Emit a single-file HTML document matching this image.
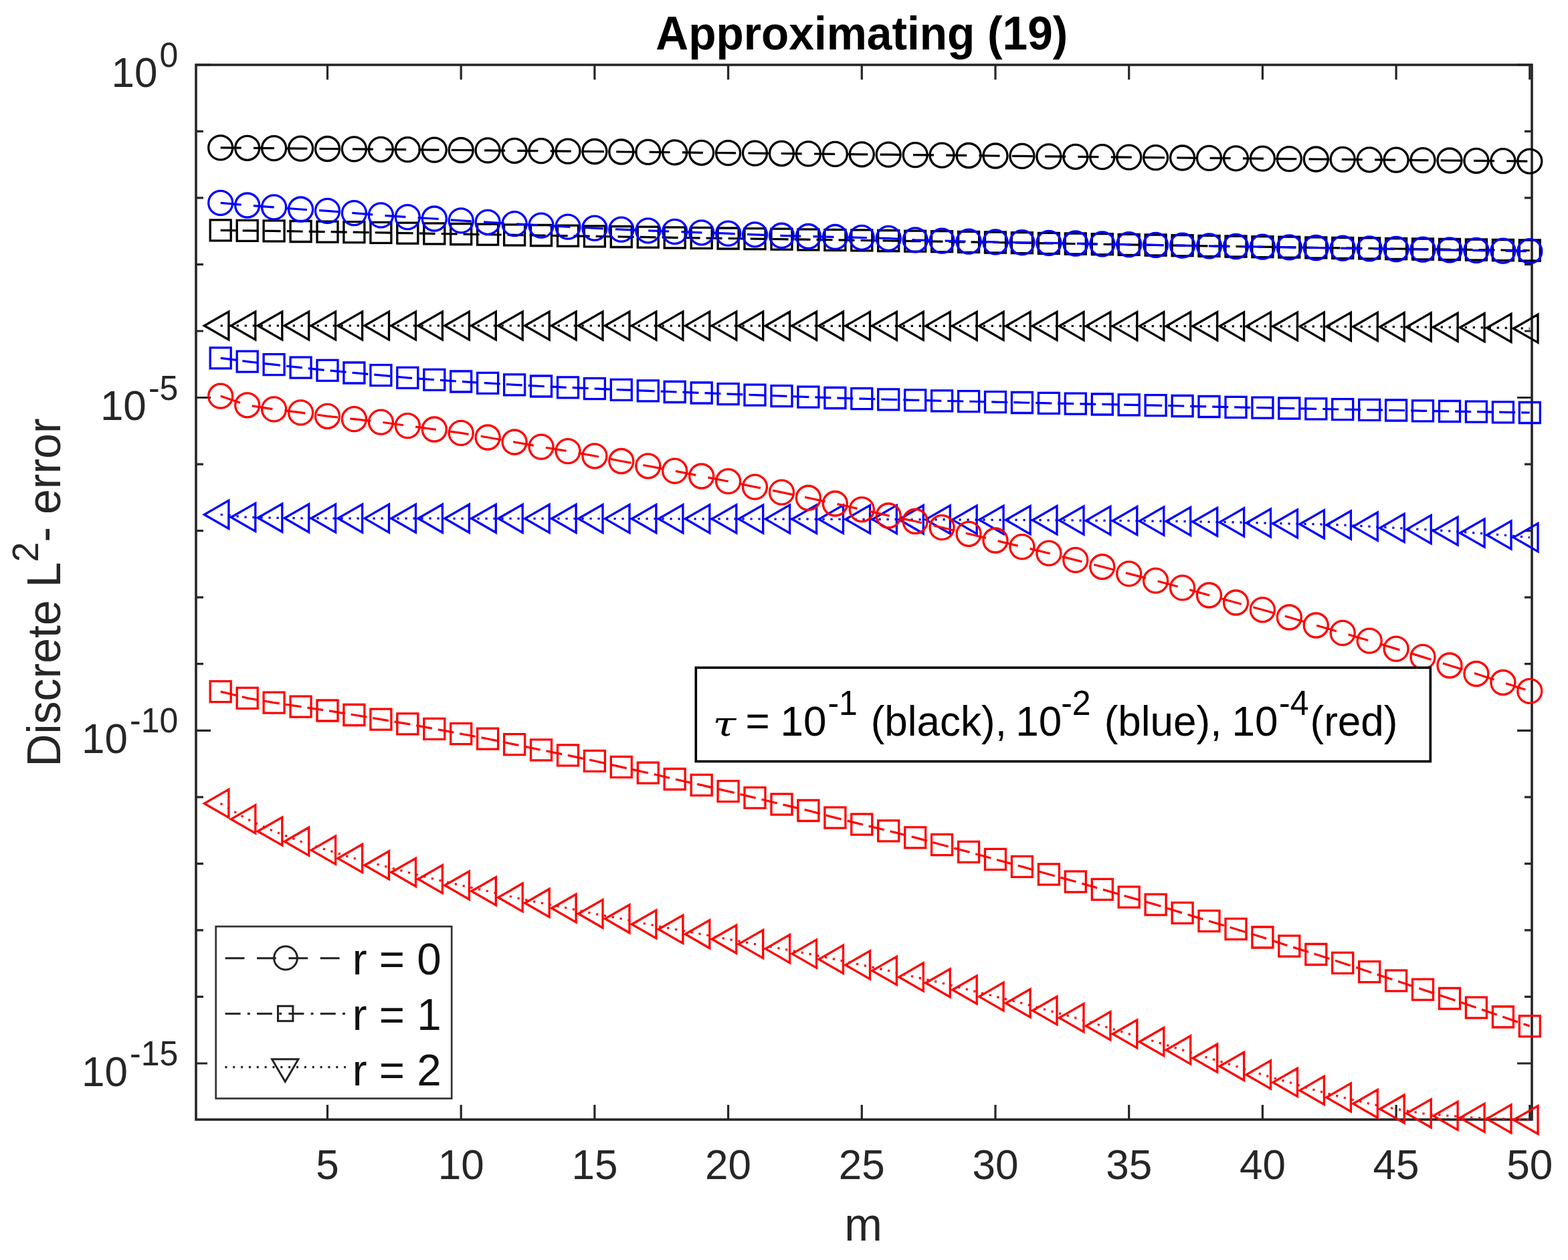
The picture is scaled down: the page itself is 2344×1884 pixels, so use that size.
<!DOCTYPE html>
<html><head><meta charset="utf-8"><title>Approximating (19)</title>
<style>html,body{margin:0;padding:0;background:#fff;overflow:hidden;}svg{display:block;}</style>
</head><body>
<svg width="2344" height="1884" viewBox="0 0 2344 1884">
<rect width="2344" height="1884" fill="#ffffff"/>
<path d="M489.5 1674V1652M489.5 97V119M689.2 1674V1652M689.2 97V119M888.9 1674V1652M888.9 97V119M1088.6 1674V1652M1088.6 97V119M1288.3 1674V1652M1288.3 97V119M1488 1674V1652M1488 97V119M1687.7 1674V1652M1687.7 97V119M1887.4 1674V1652M1887.4 97V119M2087.1 1674V1652M2087.1 97V119M2286.8 1674V1652M2286.8 97V119M293 96.8H315M2290 96.8H2268M293 196.3H304M2290 196.3H2279M293 295.9H304M2290 295.9H2279M293 395.4H304M2290 395.4H2279M293 495H304M2290 495H2279M293 594.5H315M2290 594.5H2268M293 694.1H304M2290 694.1H2279M293 793.6H304M2290 793.6H2279M293 893.2H304M2290 893.2H2279M293 992.7H304M2290 992.7H2279M293 1092.3H315M2290 1092.3H2268M293 1191.8H304M2290 1191.8H2279M293 1291.4H304M2290 1291.4H2279M293 1390.9H304M2290 1390.9H2279M293 1490.4H304M2290 1490.4H2279M293 1590H315M2290 1590H2268" fill="none" stroke="#262626" stroke-width="3.2"/>
<rect x="293" y="97" width="1997" height="1577" fill="none" stroke="#262626" stroke-width="3.6"/>
<polyline points="329.7,220.9 369.7,221.3 409.6,221.7 449.6,222.1 489.5,222.5 529.4,222.9 569.4,223.3 609.3,223.7 649.3,224.1 689.2,224.5 729.1,224.9 769.1,225.3 809,225.7 849,226.1 888.9,226.5 928.8,227 968.8,227.4 1008.7,227.8 1048.7,228.3 1088.6,228.7 1128.5,229.1 1168.5,229.5 1208.4,229.9 1248.4,230.4 1288.3,230.8 1328.2,231.2 1368.2,231.6 1408.1,232.1 1448.1,232.5 1488,233 1527.9,233.4 1567.9,233.9 1607.8,234.3 1647.8,234.7 1687.7,235.1 1727.6,235.6 1767.6,236 1807.5,236.4 1847.5,236.8 1887.4,237.2 1927.3,237.6 1967.3,238 2007.2,238.4 2047.2,238.8 2087.1,239.2 2127,239.6 2167,240 2206.9,240.3 2246.9,240.7 2286.8,241.1" fill="none" stroke="#000000" stroke-width="3.2" stroke-dasharray="31 18.3" stroke-linecap="butt" stroke-linejoin="round"/>
<path d="M311.7 220.9a18.0 18.0 0 1 0 36 0a18.0 18.0 0 1 0 -36 0zM351.7 221.3a18.0 18.0 0 1 0 36 0a18.0 18.0 0 1 0 -36 0zM391.6 221.7a18.0 18.0 0 1 0 36 0a18.0 18.0 0 1 0 -36 0zM431.6 222.1a18.0 18.0 0 1 0 36 0a18.0 18.0 0 1 0 -36 0zM471.5 222.5a18.0 18.0 0 1 0 36 0a18.0 18.0 0 1 0 -36 0zM511.4 222.9a18.0 18.0 0 1 0 36 0a18.0 18.0 0 1 0 -36 0zM551.4 223.3a18.0 18.0 0 1 0 36 0a18.0 18.0 0 1 0 -36 0zM591.3 223.7a18.0 18.0 0 1 0 36 0a18.0 18.0 0 1 0 -36 0zM631.3 224.1a18.0 18.0 0 1 0 36 0a18.0 18.0 0 1 0 -36 0zM671.2 224.5a18.0 18.0 0 1 0 36 0a18.0 18.0 0 1 0 -36 0zM711.1 224.9a18.0 18.0 0 1 0 36 0a18.0 18.0 0 1 0 -36 0zM751.1 225.3a18.0 18.0 0 1 0 36 0a18.0 18.0 0 1 0 -36 0zM791 225.7a18.0 18.0 0 1 0 36 0a18.0 18.0 0 1 0 -36 0zM831 226.1a18.0 18.0 0 1 0 36 0a18.0 18.0 0 1 0 -36 0zM870.9 226.5a18.0 18.0 0 1 0 36 0a18.0 18.0 0 1 0 -36 0zM910.8 227a18.0 18.0 0 1 0 36 0a18.0 18.0 0 1 0 -36 0zM950.8 227.4a18.0 18.0 0 1 0 36 0a18.0 18.0 0 1 0 -36 0zM990.7 227.8a18.0 18.0 0 1 0 36 0a18.0 18.0 0 1 0 -36 0zM1030.7 228.3a18.0 18.0 0 1 0 36 0a18.0 18.0 0 1 0 -36 0zM1070.6 228.7a18.0 18.0 0 1 0 36 0a18.0 18.0 0 1 0 -36 0zM1110.5 229.1a18.0 18.0 0 1 0 36 0a18.0 18.0 0 1 0 -36 0zM1150.5 229.5a18.0 18.0 0 1 0 36 0a18.0 18.0 0 1 0 -36 0zM1190.4 229.9a18.0 18.0 0 1 0 36 0a18.0 18.0 0 1 0 -36 0zM1230.4 230.4a18.0 18.0 0 1 0 36 0a18.0 18.0 0 1 0 -36 0zM1270.3 230.8a18.0 18.0 0 1 0 36 0a18.0 18.0 0 1 0 -36 0zM1310.2 231.2a18.0 18.0 0 1 0 36 0a18.0 18.0 0 1 0 -36 0zM1350.2 231.6a18.0 18.0 0 1 0 36 0a18.0 18.0 0 1 0 -36 0zM1390.1 232.1a18.0 18.0 0 1 0 36 0a18.0 18.0 0 1 0 -36 0zM1430.1 232.5a18.0 18.0 0 1 0 36 0a18.0 18.0 0 1 0 -36 0zM1470 233a18.0 18.0 0 1 0 36 0a18.0 18.0 0 1 0 -36 0zM1509.9 233.4a18.0 18.0 0 1 0 36 0a18.0 18.0 0 1 0 -36 0zM1549.9 233.9a18.0 18.0 0 1 0 36 0a18.0 18.0 0 1 0 -36 0zM1589.8 234.3a18.0 18.0 0 1 0 36 0a18.0 18.0 0 1 0 -36 0zM1629.8 234.7a18.0 18.0 0 1 0 36 0a18.0 18.0 0 1 0 -36 0zM1669.7 235.1a18.0 18.0 0 1 0 36 0a18.0 18.0 0 1 0 -36 0zM1709.6 235.6a18.0 18.0 0 1 0 36 0a18.0 18.0 0 1 0 -36 0zM1749.6 236a18.0 18.0 0 1 0 36 0a18.0 18.0 0 1 0 -36 0zM1789.5 236.4a18.0 18.0 0 1 0 36 0a18.0 18.0 0 1 0 -36 0zM1829.5 236.8a18.0 18.0 0 1 0 36 0a18.0 18.0 0 1 0 -36 0zM1869.4 237.2a18.0 18.0 0 1 0 36 0a18.0 18.0 0 1 0 -36 0zM1909.3 237.6a18.0 18.0 0 1 0 36 0a18.0 18.0 0 1 0 -36 0zM1949.3 238a18.0 18.0 0 1 0 36 0a18.0 18.0 0 1 0 -36 0zM1989.2 238.4a18.0 18.0 0 1 0 36 0a18.0 18.0 0 1 0 -36 0zM2029.2 238.8a18.0 18.0 0 1 0 36 0a18.0 18.0 0 1 0 -36 0zM2069.1 239.2a18.0 18.0 0 1 0 36 0a18.0 18.0 0 1 0 -36 0zM2109 239.6a18.0 18.0 0 1 0 36 0a18.0 18.0 0 1 0 -36 0zM2149 240a18.0 18.0 0 1 0 36 0a18.0 18.0 0 1 0 -36 0zM2188.9 240.3a18.0 18.0 0 1 0 36 0a18.0 18.0 0 1 0 -36 0zM2228.9 240.7a18.0 18.0 0 1 0 36 0a18.0 18.0 0 1 0 -36 0zM2268.8 241.1a18.0 18.0 0 1 0 36 0a18.0 18.0 0 1 0 -36 0z" fill="none" stroke="#000000" stroke-width="3.3" stroke-linejoin="miter" stroke-miterlimit="10"/>
<polyline points="329.7,344.4 369.7,344.9 409.6,345.4 449.6,346 489.5,346.6 529.4,347.2 569.4,347.9 609.3,348.6 649.3,349.3 689.2,350 729.1,350.7 769.1,351.3 809,352 849,352.7 888.9,353.3 928.8,354 968.8,354.6 1008.7,355.3 1048.7,355.9 1088.6,356.5 1128.5,357.1 1168.5,357.7 1208.4,358.2 1248.4,358.8 1288.3,359.4 1328.2,360 1368.2,360.6 1408.1,361.2 1448.1,361.9 1488,362.5 1527.9,363.2 1567.9,363.8 1607.8,364.5 1647.8,365.2 1687.7,365.8 1727.6,366.5 1767.6,367.2 1807.5,367.9 1847.5,368.5 1887.4,369.1 1927.3,369.7 1967.3,370.3 2007.2,370.9 2047.2,371.4 2087.1,372 2127,372.5 2167,373 2206.9,373.5 2246.9,374 2286.8,374.5" fill="none" stroke="#000000" stroke-width="3.2" stroke-dasharray="24 9" stroke-linecap="butt" stroke-linejoin="round"/>
<path d="M314.2 328.9h31v31h-31zM354.2 329.4h31v31h-31zM394.1 329.9h31v31h-31zM434.1 330.5h31v31h-31zM474 331.1h31v31h-31zM513.9 331.7h31v31h-31zM553.9 332.4h31v31h-31zM593.8 333.1h31v31h-31zM633.8 333.8h31v31h-31zM673.7 334.5h31v31h-31zM713.6 335.2h31v31h-31zM753.6 335.8h31v31h-31zM793.5 336.5h31v31h-31zM833.5 337.2h31v31h-31zM873.4 337.8h31v31h-31zM913.3 338.5h31v31h-31zM953.3 339.1h31v31h-31zM993.2 339.8h31v31h-31zM1033.2 340.4h31v31h-31zM1073.1 341h31v31h-31zM1113 341.6h31v31h-31zM1153 342.2h31v31h-31zM1192.9 342.8h31v31h-31zM1232.9 343.3h31v31h-31zM1272.8 343.9h31v31h-31zM1312.7 344.5h31v31h-31zM1352.7 345.1h31v31h-31zM1392.6 345.7h31v31h-31zM1432.6 346.4h31v31h-31zM1472.5 347h31v31h-31zM1512.4 347.7h31v31h-31zM1552.4 348.3h31v31h-31zM1592.3 349h31v31h-31zM1632.3 349.7h31v31h-31zM1672.2 350.3h31v31h-31zM1712.1 351h31v31h-31zM1752.1 351.7h31v31h-31zM1792 352.4h31v31h-31zM1832 353h31v31h-31zM1871.9 353.6h31v31h-31zM1911.8 354.2h31v31h-31zM1951.8 354.8h31v31h-31zM1991.7 355.4h31v31h-31zM2031.7 355.9h31v31h-31zM2071.6 356.5h31v31h-31zM2111.5 357h31v31h-31zM2151.5 357.5h31v31h-31zM2191.4 358h31v31h-31zM2231.4 358.5h31v31h-31zM2271.3 359h31v31h-31z" fill="none" stroke="#000000" stroke-width="3.3" stroke-linejoin="miter" stroke-miterlimit="10"/>
<polyline points="329.7,487 369.7,487 409.6,487 449.6,487 489.5,487 529.4,487 569.4,487 609.3,487 649.3,487 689.2,487 729.1,487 769.1,487 809,487 849,487 888.9,487 928.8,487 968.8,487.1 1008.7,487.1 1048.7,487.1 1088.6,487.1 1128.5,487.2 1168.5,487.2 1208.4,487.2 1248.4,487.3 1288.3,487.3 1328.2,487.3 1368.2,487.4 1408.1,487.4 1448.1,487.4 1488,487.4 1527.9,487.5 1567.9,487.5 1607.8,487.5 1647.8,487.6 1687.7,487.6 1727.6,487.6 1767.6,487.7 1807.5,487.8 1847.5,487.8 1887.4,487.9 1927.3,488 1967.3,488.1 2007.2,488.3 2047.2,488.5 2087.1,488.7 2127,489 2167,489.3 2206.9,489.7 2246.9,490.3 2286.8,491.2" fill="none" stroke="#000000" stroke-width="3.2" stroke-dasharray="3.2 8.8" stroke-linecap="butt" stroke-linejoin="round"/>
<path d="M305.4 487L341.9 466L341.9 508zM345.4 487L381.8 466L381.8 508zM385.3 487L421.8 466L421.8 508zM425.3 487L461.7 466L461.7 508zM465.2 487L501.6 466L501.6 508zM505.1 487L541.6 466L541.6 508zM545.1 487L581.5 466L581.5 508zM585 487L621.5 466L621.5 508zM625 487L661.4 466L661.4 508zM664.9 487L701.4 466L701.4 508zM704.8 487L741.3 466L741.3 508zM744.8 487L781.2 466L781.2 508zM784.7 487L821.2 466L821.2 508zM824.7 487L861.1 466L861.1 508zM864.6 487L901 466L901 508.1zM904.5 487L941 466L941 508.1zM944.5 487.1L980.9 466L980.9 508.1zM984.4 487.1L1020.9 466L1020.9 508.1zM1024.4 487.1L1060.8 466.1L1060.8 508.2zM1064.3 487.1L1100.8 466.1L1100.8 508.2zM1104.2 487.2L1140.7 466.1L1140.7 508.2zM1144.2 487.2L1180.6 466.2L1180.6 508.3zM1184.1 487.2L1220.6 466.2L1220.6 508.3zM1224.1 487.3L1260.5 466.2L1260.5 508.3zM1264 487.3L1300.5 466.3L1300.5 508.3zM1303.9 487.3L1340.4 466.3L1340.4 508.4zM1343.9 487.4L1380.3 466.3L1380.3 508.4zM1383.8 487.4L1420.3 466.3L1420.3 508.4zM1423.8 487.4L1460.2 466.4L1460.2 508.4zM1463.7 487.4L1500.1 466.4L1500.1 508.5zM1503.6 487.5L1540.1 466.4L1540.1 508.5zM1543.6 487.5L1580 466.4L1580 508.5zM1583.5 487.5L1620 466.5L1620 508.6zM1623.5 487.6L1659.9 466.5L1659.9 508.6zM1663.4 487.6L1699.8 466.6L1699.8 508.6zM1703.3 487.6L1739.8 466.6L1739.8 508.7zM1743.3 487.7L1779.7 466.6L1779.7 508.7zM1783.2 487.8L1819.7 466.7L1819.7 508.8zM1823.2 487.8L1859.6 466.8L1859.6 508.9zM1863.1 487.9L1899.5 466.9L1899.5 508.9zM1903 488L1939.5 467L1939.5 509zM1943 488.1L1979.4 467.1L1979.4 509.2zM1982.9 488.3L2019.4 467.3L2019.4 509.3zM2022.9 488.5L2059.3 467.4L2059.3 509.5zM2062.8 488.7L2099.2 467.7L2099.2 509.7zM2102.7 489L2139.2 467.9L2139.2 510zM2142.7 489.3L2179.1 468.2L2179.1 510.3zM2182.6 489.7L2219.1 468.7L2219.1 510.7zM2222.6 490.3L2259 469.3L2259 511.4zM2262.5 491.2L2299 470.2L2299 512.2z" fill="none" stroke="#000000" stroke-width="3.3" stroke-linejoin="miter" stroke-miterlimit="10"/>
<polyline points="329.7,303.4 369.7,307 409.6,309.9 449.6,313 489.5,315.4 529.4,318.6 569.4,321.9 609.3,324.6 649.3,327 689.2,329.9 729.1,332.3 769.1,334.7 809,337.1 849,339.1 888.9,341.2 928.8,343.2 968.8,344.8 1008.7,346.3 1048.7,347.8 1088.6,349.2 1128.5,350.8 1168.5,352.3 1208.4,353.5 1248.4,354.5 1288.3,355.3 1328.2,356.4 1368.2,358.8 1408.1,360.1 1448.1,361.1 1488,361.9 1527.9,362.6 1567.9,363.3 1607.8,364 1647.8,364.8 1687.7,365.6 1727.6,366.3 1767.6,367.1 1807.5,367.8 1847.5,368.5 1887.4,369.2 1927.3,369.9 1967.3,370.5 2007.2,371.2 2047.2,371.8 2087.1,372.5 2127,373.2 2167,373.8 2206.9,374.4 2246.9,375.1 2286.8,375.7" fill="none" stroke="#0000ff" stroke-width="3.2" stroke-dasharray="31 18.3" stroke-linecap="butt" stroke-linejoin="round"/>
<path d="M311.7 303.4a18.0 18.0 0 1 0 36 0a18.0 18.0 0 1 0 -36 0zM351.7 307a18.0 18.0 0 1 0 36 0a18.0 18.0 0 1 0 -36 0zM391.6 309.9a18.0 18.0 0 1 0 36 0a18.0 18.0 0 1 0 -36 0zM431.6 313a18.0 18.0 0 1 0 36 0a18.0 18.0 0 1 0 -36 0zM471.5 315.4a18.0 18.0 0 1 0 36 0a18.0 18.0 0 1 0 -36 0zM511.4 318.6a18.0 18.0 0 1 0 36 0a18.0 18.0 0 1 0 -36 0zM551.4 321.9a18.0 18.0 0 1 0 36 0a18.0 18.0 0 1 0 -36 0zM591.3 324.6a18.0 18.0 0 1 0 36 0a18.0 18.0 0 1 0 -36 0zM631.3 327a18.0 18.0 0 1 0 36 0a18.0 18.0 0 1 0 -36 0zM671.2 329.9a18.0 18.0 0 1 0 36 0a18.0 18.0 0 1 0 -36 0zM711.1 332.3a18.0 18.0 0 1 0 36 0a18.0 18.0 0 1 0 -36 0zM751.1 334.7a18.0 18.0 0 1 0 36 0a18.0 18.0 0 1 0 -36 0zM791 337.1a18.0 18.0 0 1 0 36 0a18.0 18.0 0 1 0 -36 0zM831 339.1a18.0 18.0 0 1 0 36 0a18.0 18.0 0 1 0 -36 0zM870.9 341.2a18.0 18.0 0 1 0 36 0a18.0 18.0 0 1 0 -36 0zM910.8 343.2a18.0 18.0 0 1 0 36 0a18.0 18.0 0 1 0 -36 0zM950.8 344.8a18.0 18.0 0 1 0 36 0a18.0 18.0 0 1 0 -36 0zM990.7 346.3a18.0 18.0 0 1 0 36 0a18.0 18.0 0 1 0 -36 0zM1030.7 347.8a18.0 18.0 0 1 0 36 0a18.0 18.0 0 1 0 -36 0zM1070.6 349.2a18.0 18.0 0 1 0 36 0a18.0 18.0 0 1 0 -36 0zM1110.5 350.8a18.0 18.0 0 1 0 36 0a18.0 18.0 0 1 0 -36 0zM1150.5 352.3a18.0 18.0 0 1 0 36 0a18.0 18.0 0 1 0 -36 0zM1190.4 353.5a18.0 18.0 0 1 0 36 0a18.0 18.0 0 1 0 -36 0zM1230.4 354.5a18.0 18.0 0 1 0 36 0a18.0 18.0 0 1 0 -36 0zM1270.3 355.3a18.0 18.0 0 1 0 36 0a18.0 18.0 0 1 0 -36 0zM1310.2 356.4a18.0 18.0 0 1 0 36 0a18.0 18.0 0 1 0 -36 0zM1350.2 358.8a18.0 18.0 0 1 0 36 0a18.0 18.0 0 1 0 -36 0zM1390.1 360.1a18.0 18.0 0 1 0 36 0a18.0 18.0 0 1 0 -36 0zM1430.1 361.1a18.0 18.0 0 1 0 36 0a18.0 18.0 0 1 0 -36 0zM1470 361.9a18.0 18.0 0 1 0 36 0a18.0 18.0 0 1 0 -36 0zM1509.9 362.6a18.0 18.0 0 1 0 36 0a18.0 18.0 0 1 0 -36 0zM1549.9 363.3a18.0 18.0 0 1 0 36 0a18.0 18.0 0 1 0 -36 0zM1589.8 364a18.0 18.0 0 1 0 36 0a18.0 18.0 0 1 0 -36 0zM1629.8 364.8a18.0 18.0 0 1 0 36 0a18.0 18.0 0 1 0 -36 0zM1669.7 365.6a18.0 18.0 0 1 0 36 0a18.0 18.0 0 1 0 -36 0zM1709.6 366.3a18.0 18.0 0 1 0 36 0a18.0 18.0 0 1 0 -36 0zM1749.6 367.1a18.0 18.0 0 1 0 36 0a18.0 18.0 0 1 0 -36 0zM1789.5 367.8a18.0 18.0 0 1 0 36 0a18.0 18.0 0 1 0 -36 0zM1829.5 368.5a18.0 18.0 0 1 0 36 0a18.0 18.0 0 1 0 -36 0zM1869.4 369.2a18.0 18.0 0 1 0 36 0a18.0 18.0 0 1 0 -36 0zM1909.3 369.9a18.0 18.0 0 1 0 36 0a18.0 18.0 0 1 0 -36 0zM1949.3 370.5a18.0 18.0 0 1 0 36 0a18.0 18.0 0 1 0 -36 0zM1989.2 371.2a18.0 18.0 0 1 0 36 0a18.0 18.0 0 1 0 -36 0zM2029.2 371.8a18.0 18.0 0 1 0 36 0a18.0 18.0 0 1 0 -36 0zM2069.1 372.5a18.0 18.0 0 1 0 36 0a18.0 18.0 0 1 0 -36 0zM2109 373.2a18.0 18.0 0 1 0 36 0a18.0 18.0 0 1 0 -36 0zM2149 373.8a18.0 18.0 0 1 0 36 0a18.0 18.0 0 1 0 -36 0zM2188.9 374.4a18.0 18.0 0 1 0 36 0a18.0 18.0 0 1 0 -36 0zM2228.9 375.1a18.0 18.0 0 1 0 36 0a18.0 18.0 0 1 0 -36 0zM2268.8 375.7a18.0 18.0 0 1 0 36 0a18.0 18.0 0 1 0 -36 0z" fill="none" stroke="#0000ff" stroke-width="3.3" stroke-linejoin="miter" stroke-miterlimit="10"/>
<polyline points="329.7,535.3 369.7,540.6 409.6,545.2 449.6,549.7 489.5,553.8 529.4,557.5 569.4,561.1 609.3,564.9 649.3,567.8 689.2,570.5 729.1,572.9 769.1,575.3 809,577.5 849,579.4 888.9,581.1 928.8,582.8 968.8,584.4 1008.7,586 1048.7,587.5 1088.6,589.1 1128.5,590.6 1168.5,592.1 1208.4,593.6 1248.4,595 1288.3,596.2 1328.2,597.3 1368.2,598.3 1408.1,599.3 1448.1,600.2 1488,601.1 1527.9,602 1567.9,602.9 1607.8,603.7 1647.8,604.5 1687.7,605.3 1727.6,606.1 1767.6,607 1807.5,608 1847.5,608.9 1887.4,609.7 1927.3,610.5 1967.3,611.3 2007.2,612.1 2047.2,612.8 2087.1,613.5 2127,614.3 2167,615 2206.9,615.7 2246.9,616.3 2286.8,617" fill="none" stroke="#0000ff" stroke-width="3.2" stroke-dasharray="24 9" stroke-linecap="butt" stroke-linejoin="round"/>
<path d="M314.2 519.8h31v31h-31zM354.2 525.1h31v31h-31zM394.1 529.7h31v31h-31zM434.1 534.2h31v31h-31zM474 538.3h31v31h-31zM513.9 542h31v31h-31zM553.9 545.6h31v31h-31zM593.8 549.4h31v31h-31zM633.8 552.3h31v31h-31zM673.7 555h31v31h-31zM713.6 557.4h31v31h-31zM753.6 559.8h31v31h-31zM793.5 562h31v31h-31zM833.5 563.9h31v31h-31zM873.4 565.6h31v31h-31zM913.3 567.3h31v31h-31zM953.3 568.9h31v31h-31zM993.2 570.5h31v31h-31zM1033.2 572h31v31h-31zM1073.1 573.6h31v31h-31zM1113 575.1h31v31h-31zM1153 576.6h31v31h-31zM1192.9 578.1h31v31h-31zM1232.9 579.5h31v31h-31zM1272.8 580.7h31v31h-31zM1312.7 581.8h31v31h-31zM1352.7 582.8h31v31h-31zM1392.6 583.8h31v31h-31zM1432.6 584.7h31v31h-31zM1472.5 585.6h31v31h-31zM1512.4 586.5h31v31h-31zM1552.4 587.4h31v31h-31zM1592.3 588.2h31v31h-31zM1632.3 589h31v31h-31zM1672.2 589.8h31v31h-31zM1712.1 590.6h31v31h-31zM1752.1 591.5h31v31h-31zM1792 592.5h31v31h-31zM1832 593.4h31v31h-31zM1871.9 594.2h31v31h-31zM1911.8 595h31v31h-31zM1951.8 595.8h31v31h-31zM1991.7 596.6h31v31h-31zM2031.7 597.3h31v31h-31zM2071.6 598h31v31h-31zM2111.5 598.8h31v31h-31zM2151.5 599.5h31v31h-31zM2191.4 600.2h31v31h-31zM2231.4 600.8h31v31h-31zM2271.3 601.5h31v31h-31z" fill="none" stroke="#0000ff" stroke-width="3.3" stroke-linejoin="miter" stroke-miterlimit="10"/>
<polyline points="329.7,769.4 369.7,773.5 409.6,774.3 449.6,774.8 489.5,775 529.4,775.1 569.4,775.1 609.3,775.2 649.3,775.2 689.2,775.3 729.1,775.3 769.1,775.3 809,775.4 849,775.5 888.9,775.5 928.8,775.6 968.8,775.7 1008.7,775.8 1048.7,775.8 1088.6,775.9 1128.5,776 1168.5,776.1 1208.4,776.2 1248.4,776.4 1288.3,776.5 1328.2,776.6 1368.2,776.8 1408.1,776.9 1448.1,777.1 1488,777.3 1527.9,777.5 1567.9,777.8 1607.8,778 1647.8,778.4 1687.7,778.7 1727.6,779.1 1767.6,779.5 1807.5,780.3 1847.5,780.9 1887.4,782 1927.3,783 1967.3,783.8 2007.2,785 2047.2,787.2 2087.1,789.4 2127,791.6 2167,794 2206.9,797 2246.9,800 2286.8,803.6" fill="none" stroke="#0000ff" stroke-width="3.2" stroke-dasharray="3.2 8.8" stroke-linecap="butt" stroke-linejoin="round"/>
<path d="M305.4 769.4L341.9 748.4L341.9 790.4zM345.4 773.5L381.8 752.5L381.8 794.5zM385.3 774.3L421.8 753.3L421.8 795.3zM425.3 774.8L461.7 753.8L461.7 795.8zM465.2 775L501.6 754L501.6 796zM505.1 775.1L541.6 754L541.6 796.1zM545.1 775.1L581.5 754.1L581.5 796.2zM585 775.2L621.5 754.1L621.5 796.2zM625 775.2L661.4 754.2L661.4 796.3zM664.9 775.3L701.4 754.2L701.4 796.3zM704.8 775.3L741.3 754.3L741.3 796.3zM744.8 775.3L781.2 754.3L781.2 796.4zM784.7 775.4L821.2 754.4L821.2 796.4zM824.7 775.5L861.1 754.4L861.1 796.5zM864.6 775.5L901 754.5L901 796.6zM904.5 775.6L941 754.6L941 796.6zM944.5 775.7L980.9 754.6L980.9 796.7zM984.4 775.8L1020.9 754.7L1020.9 796.8zM1024.4 775.8L1060.8 754.8L1060.8 796.9zM1064.3 775.9L1100.8 754.9L1100.8 797zM1104.2 776L1140.7 755L1140.7 797.1zM1144.2 776.1L1180.6 755.1L1180.6 797.2zM1184.1 776.2L1220.6 755.2L1220.6 797.3zM1224.1 776.4L1260.5 755.3L1260.5 797.4zM1264 776.5L1300.5 755.5L1300.5 797.5zM1303.9 776.6L1340.4 755.6L1340.4 797.7zM1343.9 776.8L1380.3 755.7L1380.3 797.8zM1383.8 776.9L1420.3 755.9L1420.3 798zM1423.8 777.1L1460.2 756.1L1460.2 798.2zM1463.7 777.3L1500.1 756.3L1500.1 798.4zM1503.6 777.5L1540.1 756.5L1540.1 798.6zM1543.6 777.8L1580 756.7L1580 798.8zM1583.5 778L1620 757L1620 799.1zM1623.5 778.4L1659.9 757.3L1659.9 799.4zM1663.4 778.7L1699.8 757.7L1699.8 799.7zM1703.3 779.1L1739.8 758L1739.8 800.1zM1743.3 779.5L1779.7 758.5L1779.7 800.5zM1783.2 780.3L1819.7 759.3L1819.7 801.3zM1823.2 780.9L1859.6 759.9L1859.6 801.9zM1863.1 782L1899.5 761L1899.5 803zM1903 783L1939.5 762L1939.5 804zM1943 783.8L1979.4 762.8L1979.4 804.8zM1982.9 785L2019.4 764L2019.4 806zM2022.9 787.2L2059.3 766.2L2059.3 808.2zM2062.8 789.4L2099.2 768.4L2099.2 810.4zM2102.7 791.6L2139.2 770.6L2139.2 812.6zM2142.7 794L2179.1 773L2179.1 815zM2182.6 797L2219.1 776L2219.1 818zM2222.6 800L2259 779L2259 821zM2262.5 803.6L2299 782.6L2299 824.6z" fill="none" stroke="#0000ff" stroke-width="3.3" stroke-linejoin="miter" stroke-miterlimit="10"/>
<polyline points="329.7,592.2 369.7,605.8 409.6,611.9 449.6,616.9 489.5,622.3 529.4,626.7 569.4,631.1 609.3,636.6 649.3,642 689.2,647.4 729.1,654 769.1,661 809,668.1 849,674.6 888.9,681.8 928.8,689.5 968.8,696.8 1008.7,704.2 1048.7,712 1088.6,719.7 1128.5,728.1 1168.5,736.1 1208.4,744.5 1248.4,753 1288.3,761.8 1328.2,771 1368.2,779.5 1408.1,788.7 1448.1,798.3 1488,808 1527.9,817.6 1567.9,827.2 1607.8,837.4 1647.8,847.5 1687.7,857.9 1727.6,868.2 1767.6,878.9 1807.5,890 1847.5,901 1887.4,911.8 1927.3,923 1967.3,935 2007.2,946.4 2047.2,958.1 2087.1,970.1 2127,982.4 2167,995 2206.9,1007.5 2246.9,1020.5 2286.8,1033.4" fill="none" stroke="#ff0000" stroke-width="3.2" stroke-dasharray="31 18.3" stroke-linecap="butt" stroke-linejoin="round"/>
<path d="M311.7 592.2a18.0 18.0 0 1 0 36 0a18.0 18.0 0 1 0 -36 0zM351.7 605.8a18.0 18.0 0 1 0 36 0a18.0 18.0 0 1 0 -36 0zM391.6 611.9a18.0 18.0 0 1 0 36 0a18.0 18.0 0 1 0 -36 0zM431.6 616.9a18.0 18.0 0 1 0 36 0a18.0 18.0 0 1 0 -36 0zM471.5 622.3a18.0 18.0 0 1 0 36 0a18.0 18.0 0 1 0 -36 0zM511.4 626.7a18.0 18.0 0 1 0 36 0a18.0 18.0 0 1 0 -36 0zM551.4 631.1a18.0 18.0 0 1 0 36 0a18.0 18.0 0 1 0 -36 0zM591.3 636.6a18.0 18.0 0 1 0 36 0a18.0 18.0 0 1 0 -36 0zM631.3 642a18.0 18.0 0 1 0 36 0a18.0 18.0 0 1 0 -36 0zM671.2 647.4a18.0 18.0 0 1 0 36 0a18.0 18.0 0 1 0 -36 0zM711.1 654a18.0 18.0 0 1 0 36 0a18.0 18.0 0 1 0 -36 0zM751.1 661a18.0 18.0 0 1 0 36 0a18.0 18.0 0 1 0 -36 0zM791 668.1a18.0 18.0 0 1 0 36 0a18.0 18.0 0 1 0 -36 0zM831 674.6a18.0 18.0 0 1 0 36 0a18.0 18.0 0 1 0 -36 0zM870.9 681.8a18.0 18.0 0 1 0 36 0a18.0 18.0 0 1 0 -36 0zM910.8 689.5a18.0 18.0 0 1 0 36 0a18.0 18.0 0 1 0 -36 0zM950.8 696.8a18.0 18.0 0 1 0 36 0a18.0 18.0 0 1 0 -36 0zM990.7 704.2a18.0 18.0 0 1 0 36 0a18.0 18.0 0 1 0 -36 0zM1030.7 712a18.0 18.0 0 1 0 36 0a18.0 18.0 0 1 0 -36 0zM1070.6 719.7a18.0 18.0 0 1 0 36 0a18.0 18.0 0 1 0 -36 0zM1110.5 728.1a18.0 18.0 0 1 0 36 0a18.0 18.0 0 1 0 -36 0zM1150.5 736.1a18.0 18.0 0 1 0 36 0a18.0 18.0 0 1 0 -36 0zM1190.4 744.5a18.0 18.0 0 1 0 36 0a18.0 18.0 0 1 0 -36 0zM1230.4 753a18.0 18.0 0 1 0 36 0a18.0 18.0 0 1 0 -36 0zM1270.3 761.8a18.0 18.0 0 1 0 36 0a18.0 18.0 0 1 0 -36 0zM1310.2 771a18.0 18.0 0 1 0 36 0a18.0 18.0 0 1 0 -36 0zM1350.2 779.5a18.0 18.0 0 1 0 36 0a18.0 18.0 0 1 0 -36 0zM1390.1 788.7a18.0 18.0 0 1 0 36 0a18.0 18.0 0 1 0 -36 0zM1430.1 798.3a18.0 18.0 0 1 0 36 0a18.0 18.0 0 1 0 -36 0zM1470 808a18.0 18.0 0 1 0 36 0a18.0 18.0 0 1 0 -36 0zM1509.9 817.6a18.0 18.0 0 1 0 36 0a18.0 18.0 0 1 0 -36 0zM1549.9 827.2a18.0 18.0 0 1 0 36 0a18.0 18.0 0 1 0 -36 0zM1589.8 837.4a18.0 18.0 0 1 0 36 0a18.0 18.0 0 1 0 -36 0zM1629.8 847.5a18.0 18.0 0 1 0 36 0a18.0 18.0 0 1 0 -36 0zM1669.7 857.9a18.0 18.0 0 1 0 36 0a18.0 18.0 0 1 0 -36 0zM1709.6 868.2a18.0 18.0 0 1 0 36 0a18.0 18.0 0 1 0 -36 0zM1749.6 878.9a18.0 18.0 0 1 0 36 0a18.0 18.0 0 1 0 -36 0zM1789.5 890a18.0 18.0 0 1 0 36 0a18.0 18.0 0 1 0 -36 0zM1829.5 901a18.0 18.0 0 1 0 36 0a18.0 18.0 0 1 0 -36 0zM1869.4 911.8a18.0 18.0 0 1 0 36 0a18.0 18.0 0 1 0 -36 0zM1909.3 923a18.0 18.0 0 1 0 36 0a18.0 18.0 0 1 0 -36 0zM1949.3 935a18.0 18.0 0 1 0 36 0a18.0 18.0 0 1 0 -36 0zM1989.2 946.4a18.0 18.0 0 1 0 36 0a18.0 18.0 0 1 0 -36 0zM2029.2 958.1a18.0 18.0 0 1 0 36 0a18.0 18.0 0 1 0 -36 0zM2069.1 970.1a18.0 18.0 0 1 0 36 0a18.0 18.0 0 1 0 -36 0zM2109 982.4a18.0 18.0 0 1 0 36 0a18.0 18.0 0 1 0 -36 0zM2149 995a18.0 18.0 0 1 0 36 0a18.0 18.0 0 1 0 -36 0zM2188.9 1007.5a18.0 18.0 0 1 0 36 0a18.0 18.0 0 1 0 -36 0zM2228.9 1020.5a18.0 18.0 0 1 0 36 0a18.0 18.0 0 1 0 -36 0zM2268.8 1033.4a18.0 18.0 0 1 0 36 0a18.0 18.0 0 1 0 -36 0z" fill="none" stroke="#ff0000" stroke-width="3.3" stroke-linejoin="miter" stroke-miterlimit="10"/>
<polyline points="329.7,1034.1 369.7,1043.8 409.6,1050.7 449.6,1056.7 489.5,1062.5 529.4,1069 569.4,1075.7 609.3,1082.4 649.3,1089.8 689.2,1097.2 729.1,1104.7 769.1,1113.1 809,1121.4 849,1129.4 888.9,1137.8 928.8,1146.9 968.8,1155.7 1008.7,1165 1048.7,1173.9 1088.6,1183.2 1128.5,1192.9 1168.5,1202.6 1208.4,1212 1248.4,1222.6 1288.3,1232.6 1328.2,1242.3 1368.2,1252.4 1408.1,1263.2 1448.1,1273.9 1488,1284.9 1527.9,1295.9 1567.9,1307.3 1607.8,1318.3 1647.8,1329.8 1687.7,1341.4 1727.6,1352.6 1767.6,1365.1 1807.5,1377.2 1847.5,1389.2 1887.4,1401.5 1927.3,1414.6 1967.3,1427 2007.2,1439.9 2047.2,1453.2 2087.1,1466.4 2127,1479.7 2167,1493 2206.9,1506.7 2246.9,1520.5 2286.8,1534.3" fill="none" stroke="#ff0000" stroke-width="3.2" stroke-dasharray="24 9" stroke-linecap="butt" stroke-linejoin="round"/>
<path d="M314.2 1018.6h31v31h-31zM354.2 1028.3h31v31h-31zM394.1 1035.2h31v31h-31zM434.1 1041.2h31v31h-31zM474 1047h31v31h-31zM513.9 1053.5h31v31h-31zM553.9 1060.2h31v31h-31zM593.8 1066.9h31v31h-31zM633.8 1074.3h31v31h-31zM673.7 1081.7h31v31h-31zM713.6 1089.2h31v31h-31zM753.6 1097.6h31v31h-31zM793.5 1105.9h31v31h-31zM833.5 1113.9h31v31h-31zM873.4 1122.3h31v31h-31zM913.3 1131.4h31v31h-31zM953.3 1140.2h31v31h-31zM993.2 1149.5h31v31h-31zM1033.2 1158.4h31v31h-31zM1073.1 1167.7h31v31h-31zM1113 1177.4h31v31h-31zM1153 1187.1h31v31h-31zM1192.9 1196.5h31v31h-31zM1232.9 1207.1h31v31h-31zM1272.8 1217.1h31v31h-31zM1312.7 1226.8h31v31h-31zM1352.7 1236.9h31v31h-31zM1392.6 1247.7h31v31h-31zM1432.6 1258.4h31v31h-31zM1472.5 1269.4h31v31h-31zM1512.4 1280.4h31v31h-31zM1552.4 1291.8h31v31h-31zM1592.3 1302.8h31v31h-31zM1632.3 1314.3h31v31h-31zM1672.2 1325.9h31v31h-31zM1712.1 1337.1h31v31h-31zM1752.1 1349.6h31v31h-31zM1792 1361.7h31v31h-31zM1832 1373.7h31v31h-31zM1871.9 1386h31v31h-31zM1911.8 1399.1h31v31h-31zM1951.8 1411.5h31v31h-31zM1991.7 1424.4h31v31h-31zM2031.7 1437.7h31v31h-31zM2071.6 1450.9h31v31h-31zM2111.5 1464.2h31v31h-31zM2151.5 1477.5h31v31h-31zM2191.4 1491.2h31v31h-31zM2231.4 1505h31v31h-31zM2271.3 1518.8h31v31h-31z" fill="none" stroke="#ff0000" stroke-width="3.3" stroke-linejoin="miter" stroke-miterlimit="10"/>
<polyline points="329.7,1201.4 369.7,1224.9 409.6,1243 449.6,1258.2 489.5,1271.1 529.4,1283.4 569.4,1293.7 609.3,1304.3 649.3,1314.5 689.2,1323.8 729.1,1332.5 769.1,1341.9 809,1350.2 849,1358 888.9,1366.3 928.8,1373.8 968.8,1382 1008.7,1389.5 1048.7,1396.8 1088.6,1404.3 1128.5,1411.6 1168.5,1418.6 1208.4,1426.1 1248.4,1434.4 1288.3,1442.9 1328.2,1451.4 1368.2,1460.9 1408.1,1469.8 1448.1,1480 1488,1490.1 1527.9,1500 1567.9,1511 1607.8,1521.9 1647.8,1533.9 1687.7,1546 1727.6,1557.7 1767.6,1569.9 1807.5,1582.2 1847.5,1594.3 1887.4,1606.9 1927.3,1618.4 1967.3,1630.4 2007.2,1640.9 2047.2,1650.3 2087.1,1658.2 2127,1664.8 2167,1668.4 2206.9,1671.4 2246.9,1672.9 2286.8,1674.5" fill="none" stroke="#ff0000" stroke-width="3.2" stroke-dasharray="3.2 8.8" stroke-linecap="butt" stroke-linejoin="round"/>
<path d="M305.4 1201.4L341.9 1180.4L341.9 1222.4zM345.4 1224.9L381.8 1203.9L381.8 1245.9zM385.3 1243L421.8 1222L421.8 1264zM425.3 1258.2L461.7 1237.2L461.7 1279.2zM465.2 1271.1L501.6 1250.1L501.6 1292.1zM505.1 1283.4L541.6 1262.4L541.6 1304.4zM545.1 1293.7L581.5 1272.7L581.5 1314.7zM585 1304.3L621.5 1283.3L621.5 1325.3zM625 1314.5L661.4 1293.5L661.4 1335.5zM664.9 1323.8L701.4 1302.8L701.4 1344.8zM704.8 1332.5L741.3 1311.5L741.3 1353.5zM744.8 1341.9L781.2 1320.9L781.2 1362.9zM784.7 1350.2L821.2 1329.2L821.2 1371.2zM824.7 1358L861.1 1337L861.1 1379zM864.6 1366.3L901 1345.3L901 1387.3zM904.5 1373.8L941 1352.8L941 1394.8zM944.5 1382L980.9 1361L980.9 1403zM984.4 1389.5L1020.9 1368.5L1020.9 1410.5zM1024.4 1396.8L1060.8 1375.8L1060.8 1417.8zM1064.3 1404.3L1100.8 1383.3L1100.8 1425.3zM1104.2 1411.6L1140.7 1390.6L1140.7 1432.6zM1144.2 1418.6L1180.6 1397.6L1180.6 1439.6zM1184.1 1426.1L1220.6 1405.1L1220.6 1447.1zM1224.1 1434.4L1260.5 1413.4L1260.5 1455.4zM1264 1442.9L1300.5 1421.9L1300.5 1463.9zM1303.9 1451.4L1340.4 1430.4L1340.4 1472.4zM1343.9 1460.9L1380.3 1439.9L1380.3 1481.9zM1383.8 1469.8L1420.3 1448.8L1420.3 1490.8zM1423.8 1480L1460.2 1459L1460.2 1501zM1463.7 1490.1L1500.1 1469.1L1500.1 1511.1zM1503.6 1500L1540.1 1479L1540.1 1521zM1543.6 1511L1580 1490L1580 1532zM1583.5 1521.9L1620 1500.9L1620 1542.9zM1623.5 1533.9L1659.9 1512.9L1659.9 1554.9zM1663.4 1546L1699.8 1525L1699.8 1567zM1703.3 1557.7L1739.8 1536.7L1739.8 1578.7zM1743.3 1569.9L1779.7 1548.9L1779.7 1590.9zM1783.2 1582.2L1819.7 1561.2L1819.7 1603.2zM1823.2 1594.3L1859.6 1573.3L1859.6 1615.3zM1863.1 1606.9L1899.5 1585.9L1899.5 1627.9zM1903 1618.4L1939.5 1597.4L1939.5 1639.4zM1943 1630.4L1979.4 1609.4L1979.4 1651.4zM1982.9 1640.9L2019.4 1619.9L2019.4 1661.9zM2022.9 1650.3L2059.3 1629.3L2059.3 1671.3zM2062.8 1658.2L2099.2 1637.2L2099.2 1679.2zM2102.7 1664.8L2139.2 1643.8L2139.2 1685.8zM2142.7 1668.4L2179.1 1647.4L2179.1 1689.4zM2182.6 1671.4L2219.1 1650.4L2219.1 1692.4zM2222.6 1672.9L2259 1651.9L2259 1693.9zM2262.5 1674.5L2299 1653.5L2299 1695.5z" fill="none" stroke="#ff0000" stroke-width="3.3" stroke-linejoin="miter" stroke-miterlimit="10"/>
<text transform="translate(489.5 1763.3) scale(1 1.03)" font-family="'Liberation Sans', Arial, Helvetica, sans-serif" font-size="62" fill="#262626" text-anchor="middle">5</text>
<text transform="translate(689.2 1763.3) scale(1 1.03)" font-family="'Liberation Sans', Arial, Helvetica, sans-serif" font-size="62" fill="#262626" text-anchor="middle">10</text>
<text transform="translate(888.9 1763.3) scale(1 1.03)" font-family="'Liberation Sans', Arial, Helvetica, sans-serif" font-size="62" fill="#262626" text-anchor="middle">15</text>
<text transform="translate(1088.6 1763.3) scale(1 1.03)" font-family="'Liberation Sans', Arial, Helvetica, sans-serif" font-size="62" fill="#262626" text-anchor="middle">20</text>
<text transform="translate(1288.3 1763.3) scale(1 1.03)" font-family="'Liberation Sans', Arial, Helvetica, sans-serif" font-size="62" fill="#262626" text-anchor="middle">25</text>
<text transform="translate(1488 1763.3) scale(1 1.03)" font-family="'Liberation Sans', Arial, Helvetica, sans-serif" font-size="62" fill="#262626" text-anchor="middle">30</text>
<text transform="translate(1687.7 1763.3) scale(1 1.03)" font-family="'Liberation Sans', Arial, Helvetica, sans-serif" font-size="62" fill="#262626" text-anchor="middle">35</text>
<text transform="translate(1887.4 1763.3) scale(1 1.03)" font-family="'Liberation Sans', Arial, Helvetica, sans-serif" font-size="62" fill="#262626" text-anchor="middle">40</text>
<text transform="translate(2087.1 1763.3) scale(1 1.03)" font-family="'Liberation Sans', Arial, Helvetica, sans-serif" font-size="62" fill="#262626" text-anchor="middle">45</text>
<text transform="translate(2286.8 1763.3) scale(1 1.03)" font-family="'Liberation Sans', Arial, Helvetica, sans-serif" font-size="62" fill="#262626" text-anchor="middle">50</text>
<text transform="translate(166.5 130.4) scale(1 1.03)" font-family="'Liberation Sans', Arial, Helvetica, sans-serif" font-size="62" fill="#262626">10</text>
<text transform="translate(238.6 99.8) scale(1 1.03)" font-family="'Liberation Sans', Arial, Helvetica, sans-serif" font-size="50" fill="#262626">0</text>
<text transform="translate(149.9 628.1) scale(1 1.03)" font-family="'Liberation Sans', Arial, Helvetica, sans-serif" font-size="62" fill="#262626">10</text>
<text transform="translate(221.9 597.5) scale(1 1.03)" font-family="'Liberation Sans', Arial, Helvetica, sans-serif" font-size="50" fill="#262626">-5</text>
<text transform="translate(122 1125.9) scale(1 1.03)" font-family="'Liberation Sans', Arial, Helvetica, sans-serif" font-size="62" fill="#262626">10</text>
<text transform="translate(194.1 1095.3) scale(1 1.03)" font-family="'Liberation Sans', Arial, Helvetica, sans-serif" font-size="50" fill="#262626">-10</text>
<text transform="translate(122 1623.6) scale(1 1.03)" font-family="'Liberation Sans', Arial, Helvetica, sans-serif" font-size="62" fill="#262626">10</text>
<text transform="translate(194.1 1593) scale(1 1.03)" font-family="'Liberation Sans', Arial, Helvetica, sans-serif" font-size="50" fill="#262626">-15</text>
<text transform="translate(1288.3 74.1) scale(1 1.03)" font-family="'Liberation Sans', Arial, Helvetica, sans-serif" font-size="67.6" fill="#000" text-anchor="middle" font-weight="bold">Approximating (19)</text>
<text transform="translate(1290.6 1855) scale(1 1.03)" font-family="'Liberation Sans', Arial, Helvetica, sans-serif" font-size="68" fill="#262626" text-anchor="middle">m</text>
<text transform="translate(90.3 0) rotate(-90) scale(1 1.03)" font-family="'Liberation Sans', Arial, Helvetica, sans-serif" font-size="68" fill="#262626"><tspan x="-1146.6" y="0">Discrete L</tspan><tspan font-size="54" dy="-32.4">2</tspan><tspan dy="32.4">- error</tspan></text>
<rect x="1040.3" y="998.3" width="1098" height="140.2" fill="#fff" stroke="#000" stroke-width="3.6"/>
<text transform="translate(1065.6 1099.6) scale(1.086 0.877)" font-family="'DejaVu Serif', serif" font-style="italic" font-size="58" fill="#000">τ</text>
<text transform="translate(1114.4 1100.3) scale(1 1.03)" font-family="'Liberation Sans', Arial, Helvetica, sans-serif" font-size="62" fill="#000">=</text>
<text transform="translate(1166.5 1100.3) scale(1 1.03)" font-family="'Liberation Sans', Arial, Helvetica, sans-serif" font-size="62" fill="#000">10</text>
<text transform="translate(1237.4 1069) scale(1 1.03)" font-family="'Liberation Sans', Arial, Helvetica, sans-serif" font-size="50" fill="#000">-1</text>
<text transform="translate(1301.7 1100.3) scale(1 1.03)" font-family="'Liberation Sans', Arial, Helvetica, sans-serif" font-size="62" fill="#000">(black),</text>
<text transform="translate(1518.2 1100.3) scale(1 1.03)" font-family="'Liberation Sans', Arial, Helvetica, sans-serif" font-size="62" fill="#000">10</text>
<text transform="translate(1586.2 1069) scale(1 1.03)" font-family="'Liberation Sans', Arial, Helvetica, sans-serif" font-size="50" fill="#000">-2</text>
<text transform="translate(1650.7 1100.3) scale(1 1.03)" font-family="'Liberation Sans', Arial, Helvetica, sans-serif" font-size="62" fill="#000">(blue),</text>
<text transform="translate(1841.6 1100.3) scale(1 1.03)" font-family="'Liberation Sans', Arial, Helvetica, sans-serif" font-size="62" fill="#000">10</text>
<text transform="translate(1912.1 1069) scale(1 1.03)" font-family="'Liberation Sans', Arial, Helvetica, sans-serif" font-size="50" fill="#000">-4</text>
<text transform="translate(1958.5 1100.3) scale(1 1.03)" font-family="'Liberation Sans', Arial, Helvetica, sans-serif" font-size="62" fill="#000">(red)</text>
<rect x="310" y="1375" width="379" height="272" fill="#fff"/>
<rect x="322.7" y="1385.3" width="352.5" height="257.2" fill="#fff" stroke="#333" stroke-width="2.7"/>
<path d="M336.6 1432.8H508" stroke="#222222" stroke-width="3" stroke-dasharray="28.8 18.6" fill="none"/>
<circle cx="427" cy="1432.5" r="17.4" fill="none" stroke="#222222" stroke-width="3"/>
<path d="M336.6 1515.8H516" stroke="#222222" stroke-width="3" stroke-dasharray="23 10.2 4 10.2" fill="none"/>
<rect x="415.5" y="1504.3" width="22.4" height="22.4" fill="none" stroke="#222222" stroke-width="3"/>
<path d="M336.4 1595.7H517" stroke="#222222" stroke-width="3.2" stroke-dasharray="3 8.85" fill="none"/>
<path d="M406.5 1583.7H446L426.3 1617.3Z" fill="none" stroke="#222222" stroke-width="2.9" stroke-linejoin="miter"/>
<text transform="translate(526.7 1457.2) scale(1 1.03)" font-family="'Liberation Sans', Arial, Helvetica, sans-serif" font-size="65.5" fill="#111">r = 0</text>
<text transform="translate(526.7 1539.8) scale(1 1.03)" font-family="'Liberation Sans', Arial, Helvetica, sans-serif" font-size="65.5" fill="#111">r = 1</text>
<text transform="translate(526.7 1623.2) scale(1 1.03)" font-family="'Liberation Sans', Arial, Helvetica, sans-serif" font-size="65.5" fill="#111">r = 2</text>
</svg>
</body></html>
